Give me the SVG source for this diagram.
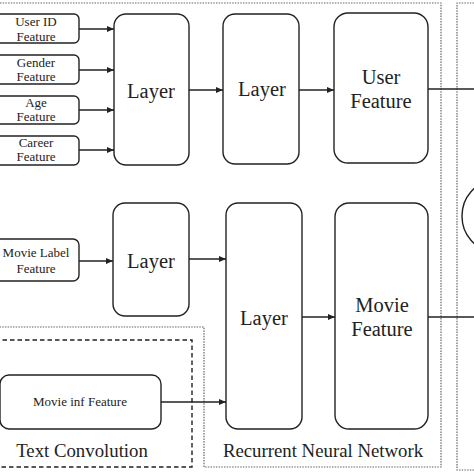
<svg xmlns="http://www.w3.org/2000/svg" width="474" height="474" viewBox="0 0 474 474">
<style>
.box{fill:#fff;stroke:#222;stroke-width:1.4}
.s{font-size:13px;fill:#222;text-anchor:middle}
.b{font-size:20.5px;fill:#222;text-anchor:middle}
.g{font-size:18.8px;fill:#222;text-anchor:middle}
.ln{stroke:#222;stroke-width:1.4;fill:none}
.dot{stroke:#666;stroke-width:1.2;fill:none;stroke-dasharray:1.5 1.2}
.dash{stroke:#222;stroke-width:1.4;fill:none;stroke-dasharray:4.5 3}
</style>
<defs>
<marker id="ah" markerWidth="8" markerHeight="6" refX="7" refY="3" orient="auto" markerUnits="userSpaceOnUse">
<path d="M0,0 L7,3 L0,6 Z" fill="#222"/>
</marker>
</defs>
<rect width="474" height="474" fill="#fff"/>
<g id="regions">
<path class="dot" d="M0,3 H441 V467 H204 V327 H0"/>
<path class="dot" d="M474,3 H457 V470 H474"/>
<path class="dash" d="M-5,340 H192 V467 H-5"/>
</g>
<g id="connectors">
<line class="ln" x1="79" y1="29" x2="114" y2="29" marker-end="url(#ah)"/>
<line class="ln" x1="79" y1="70" x2="114" y2="70" marker-end="url(#ah)"/>
<line class="ln" x1="79" y1="110" x2="114" y2="110" marker-end="url(#ah)"/>
<line class="ln" x1="79" y1="150" x2="114" y2="150" marker-end="url(#ah)"/>
<line class="ln" x1="189" y1="90" x2="223" y2="90" marker-end="url(#ah)"/>
<line class="ln" x1="299" y1="90" x2="334" y2="90" marker-end="url(#ah)"/>
<line class="ln" x1="428" y1="89" x2="474" y2="89"/>
<line class="ln" x1="79" y1="261" x2="113" y2="261" marker-end="url(#ah)"/>
<line class="ln" x1="189" y1="259" x2="226" y2="259" marker-end="url(#ah)"/>
<line class="ln" x1="161" y1="402" x2="226" y2="402" marker-end="url(#ah)"/>
<line class="ln" x1="302" y1="317" x2="335" y2="317" marker-end="url(#ah)"/>
<line class="ln" x1="428" y1="317" x2="474" y2="317"/>
</g>
<g font-family="Liberation Serif, Times New Roman, serif">
<g id="userid"><rect class="box" x="-8" y="14" width="87" height="29" rx="5"/><text class="s" x="36" y="26">User ID</text><text class="s" x="36" y="41">Feature</text></g>
<g id="gender"><rect class="box" x="-8" y="55" width="87" height="29" rx="5"/><text class="s" x="36" y="67">Gender</text><text class="s" x="36" y="81">Feature</text></g>
<g id="age"><rect class="box" x="-8" y="96" width="87" height="28" rx="5"/><text class="s" x="36" y="107">Age</text><text class="s" x="36" y="121">Feature</text></g>
<g id="career"><rect class="box" x="-8" y="136" width="87" height="29" rx="5"/><text class="s" x="36" y="147">Career</text><text class="s" x="36" y="161">Feature</text></g>
<g id="layer1"><rect class="box" x="114" y="14" width="75" height="151" rx="12"/><text class="b" x="151" y="98">Layer</text></g>
<g id="layer2"><rect class="box" x="223" y="14" width="76" height="150" rx="12"/><text class="b" x="262" y="96">Layer</text></g>
<g id="userfeature"><rect class="box" x="334" y="13" width="94" height="150" rx="14"/><text class="b" x="381" y="84">User</text><text class="b" x="381" y="108">Feature</text></g>
<g id="movielabel"><rect class="box" x="-8" y="239" width="87" height="42" rx="6"/><text class="s" x="36" y="257">Movie Label</text><text class="s" x="36" y="273">Feature</text></g>
<g id="layer3"><rect class="box" x="113" y="203" width="76" height="113" rx="12"/><text class="b" x="151" y="268">Layer</text></g>
<g id="rnnlayer"><rect class="box" x="226" y="203" width="76" height="226" rx="12"/><text class="b" x="264" y="325">Layer</text></g>
<g id="moviefeature"><rect class="box" x="335" y="203" width="93" height="226" rx="14"/><text class="b" x="382" y="312">Movie</text><text class="b" x="382" y="336">Feature</text></g>
<g id="movieinf"><rect class="box" x="0" y="375" width="161" height="54" rx="9"/><text class="s" x="80" y="406">Movie inf Feature</text></g>
<g id="labels">
<text class="g" x="82" y="457">Text Convolution</text>
<text class="g" x="323" y="457">Recurrent Neural Network</text>
</g>
</g>
<g id="ellipse"><ellipse class="ln" cx="492" cy="216" rx="30" ry="34"/></g>
</svg>
